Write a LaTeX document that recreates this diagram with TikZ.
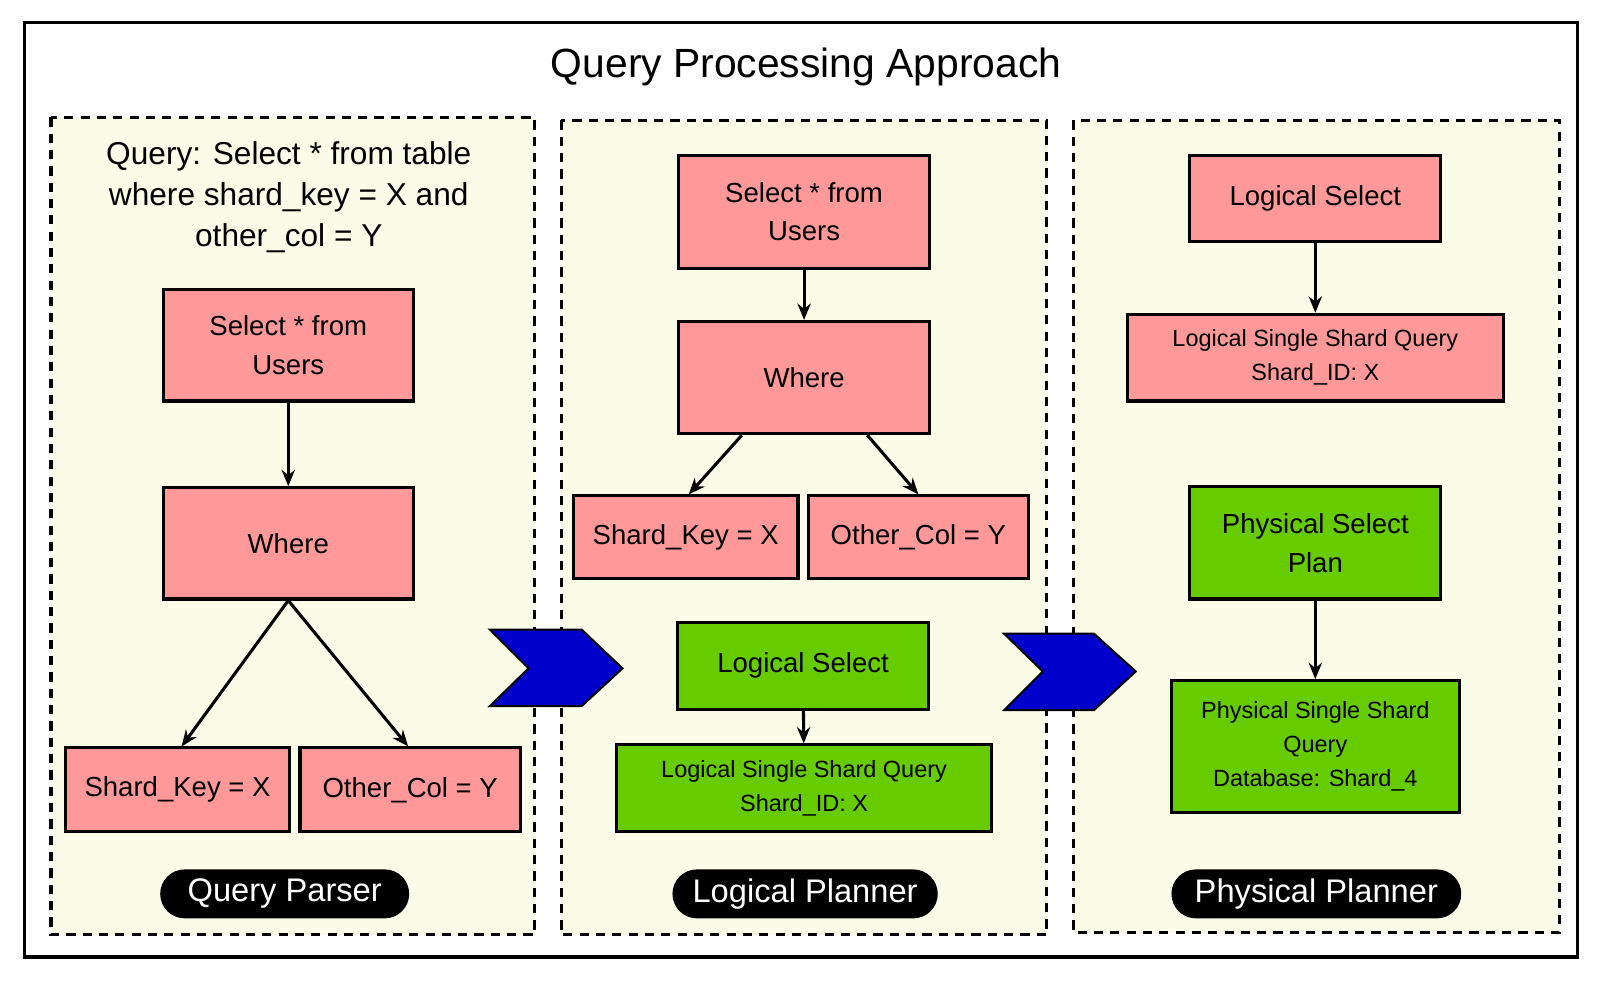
\documentclass[tikz,border=0pt]{standalone}
\usepackage{fontspec}
\setmainfont{Liberation Sans}
\usetikzlibrary{arrows.meta}
\begin{document}
\begin{tikzpicture}[x=1pt,y=-1pt,
  box/.style={draw=black,line width=3pt,fill={rgb,255:red,255;green,153;blue,153},align=center,inner sep=0pt,font=\fontsize{27}{38}\selectfont},
  gbox/.style={box,fill={rgb,255:red,102;green,204;blue,0}},
  small/.style={font=\fontsize{23}{33}\selectfont},
  panel/.style={draw=black,line width=3pt,dash pattern=on 9pt off 7pt,fill={rgb,255:red,250;green,252;blue,232}},
  pill/.style={fill=black,text=white,rounded corners=24pt,minimum height=48pt,inner sep=0pt,font=\fontsize{32}{36}\selectfont},
  arr/.style={-{Stealth[length=16pt,width=13pt]},line width=3pt},
  chev/.style={fill={rgb,255:red,0;green,0;blue,204},draw=black,line width=2pt}]
\useasboundingbox (0,0) rectangle (1568,962.4);
\draw[line width=3.5pt,fill=white] (24,22) rectangle (1546,938);
\node[font=\fontsize{40}{44}\selectfont] (title) at (790,66) {Query Processing Approach};
\draw[panel] (50,115) rectangle (524,916);
\draw[panel] (550,118) rectangle (1026,916);
\draw[panel] (1052,118) rectangle (1528,914);
% panel 1
\node[align=center,font=\fontsize{31}{40}\selectfont] (q) at (283,193) {Query: Select * from table\\where shard\_key = X and\\other\_col = Y};
\node[box,minimum width=245pt,minimum height=109pt] (s1) at (282.5,338.5) {Select * from\\Users};
\node[box,minimum width=245pt,minimum height=109pt] (w1) at (282.5,532.5) {Where};
\node[box,minimum width=220pt,minimum height=82pt] (k1) at (174,774) {Shard\_Key = X};
\node[box,minimum width=216pt,minimum height=82pt] (o1) at (402,774) {Other\_Col = Y};
\draw[arr] (s1) -- (w1);
\draw[arr] (w1.south) -- (k1.north -| 178,0);
\draw[arr] (w1.south) -- (o1.north -| 400,0);
\node[pill,minimum width=244pt] (p1) at (279,876) {Query Parser};
% panel 2
\node[box,minimum width=246pt,minimum height=111pt] (s2) at (788,207.5) {Select * from\\Users};
\node[box,minimum width=246pt,minimum height=110pt] (w2) at (788,370) {Where};
\node[box,minimum width=220pt,minimum height=81pt] (k2) at (672,526.5) {Shard\_Key = X};
\node[box,minimum width=216pt,minimum height=81pt] (o2) at (900,526.5) {Other\_Col = Y};
\draw[arr] (s2) -- (w2);
\draw[arr] (w2.south -| 727,0) -- (k2.north -| 675,0);
\draw[arr] (w2.south -| 850,0) -- (o2.north -| 900,0);
\node[gbox,minimum width=246pt,minimum height=85pt] (l2) at (787,652.5) {Logical Select};
\node[gbox,small,minimum width=368pt,minimum height=85pt] (q2) at (788,772.5) {Logical Single Shard Query\\Shard\_ID: X};
\draw[arr] (l2) -- (q2);
\node[pill,minimum width=260pt] (p2) at (789,876) {Logical Planner};
% panel 3
\node[box,minimum width=246pt,minimum height=85pt] (l3) at (1289,194.5) {Logical Select};
\node[box,small,minimum width=368pt,minimum height=85pt] (q3) at (1289,350.5) {Logical Single Shard Query\\Shard\_ID: X};
\draw[arr] (l3) -- (q3);
\node[gbox,minimum width=246pt,minimum height=110pt] (ps) at (1289,532) {Physical Select\\Plan};
\node[gbox,small,minimum width=282pt,minimum height=129pt] (pq) at (1289,731.5) {Physical Single Shard\\Query\\Database: Shard\_4};
\draw[arr] (ps) -- (pq);
\node[pill,minimum width=284pt] (p3) at (1290,876) {Physical Planner};
% chevrons
\draw[chev] (480,617) -- (570,617) -- (610,655) -- (570,692) -- (480,692) -- (518,655) -- cycle;
\draw[chev] (984,621) -- (1072,621) -- (1113,658) -- (1072,696) -- (984,696) -- (1022,658) -- cycle;
\end{tikzpicture}
\end{document}
